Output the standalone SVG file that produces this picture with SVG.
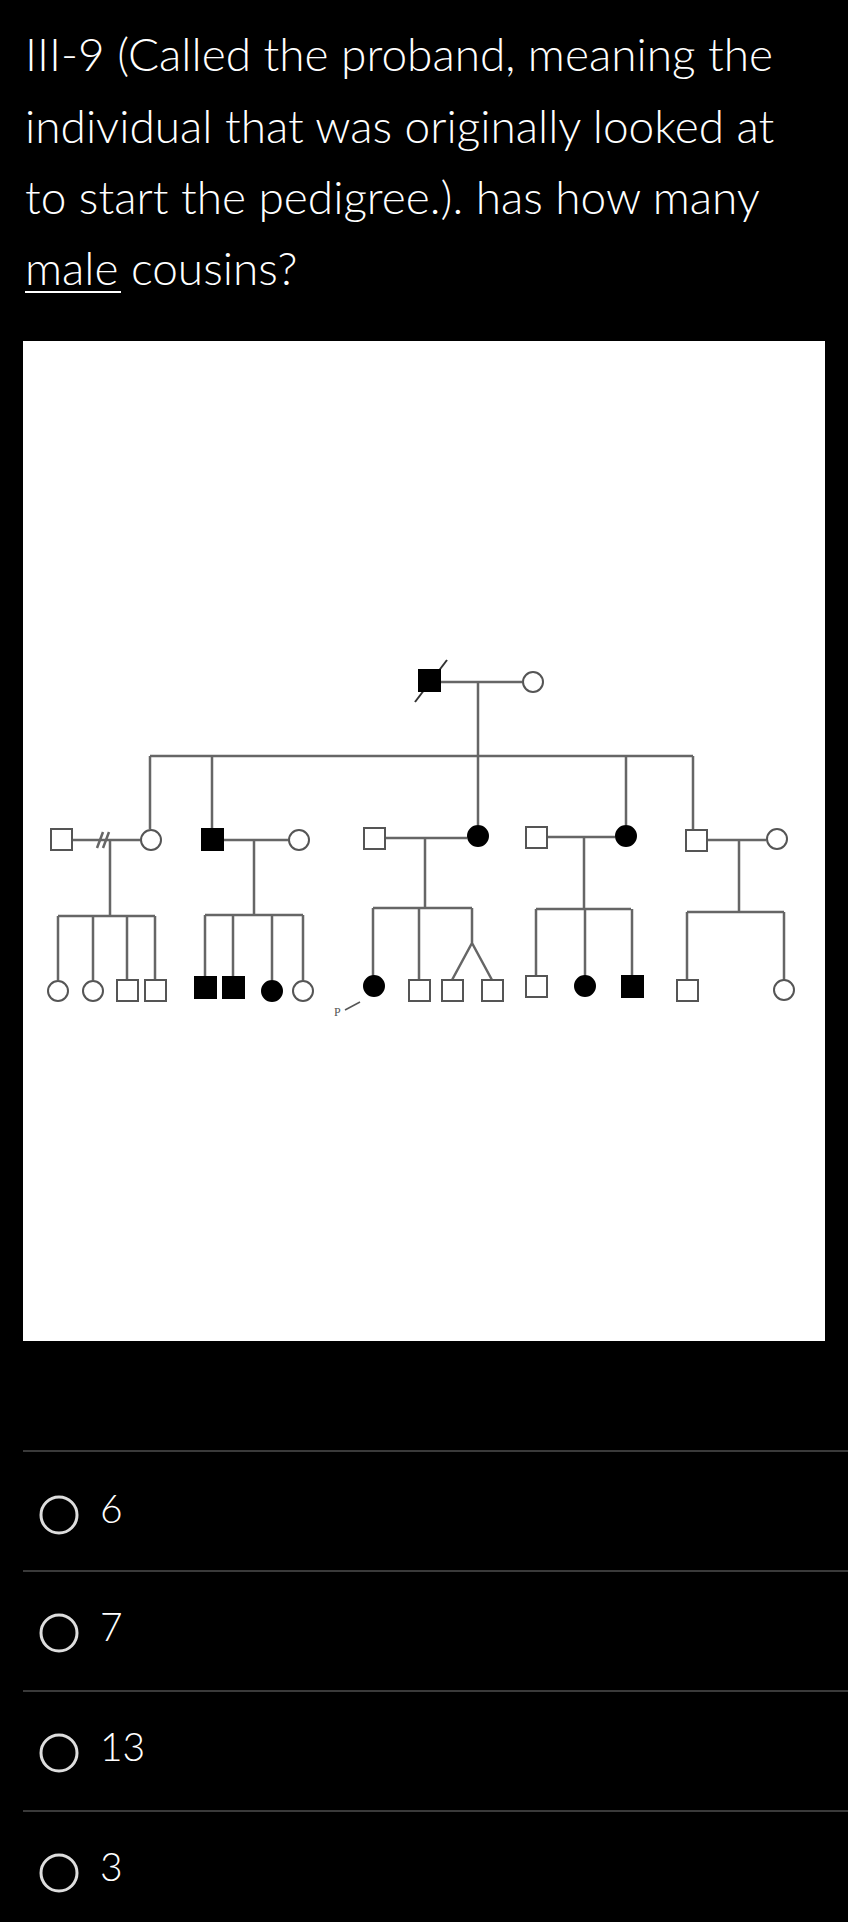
<svg xmlns="http://www.w3.org/2000/svg" width="848" height="1922" viewBox="0 0 848 1922">
<style>
.q{font-family:Lato,"Open Sans",sans-serif;font-size:46px;font-weight:300;fill:#fff}
.o{font-family:Lato,"Open Sans",sans-serif;font-size:39px;font-weight:300;fill:#fff}
.l{stroke:#666;stroke-width:2.5;fill:none}
.e{fill:#fff;stroke:#555;stroke-width:2}
.a{fill:#000;stroke:#000;stroke-width:2}
.sep{stroke:#3a3a3a;stroke-width:2}
.rad{fill:none;stroke:#ddd;stroke-width:3}
</style>
<rect width="848" height="1922" fill="#000"/>
<g id="question">
<text class="q" x="25" y="71">III-9 (Called the proband, meaning the</text>
<text class="q" x="25" y="143">individual that was originally looked at</text>
<text class="q" x="25" y="214">to start the pedigree.). has how many</text>
<text class="q" x="25" y="285">male cousins?</text>
<line x1="25" y1="292" x2="121" y2="292" stroke="#fff" stroke-width="2"/>
</g>
<rect x="23" y="341" width="802" height="1000" fill="#fff"/>
<g id="connectors">
<path class="l" d="M440 682H522M478 682V756M150 756H693M150 756V829M212 756V829M478 756V825M626 756V825M693 756V829"/>
<path class="l" d="M73 840H140M110 840V916M58 916H155M58 916V980M93 916V980M127 916V980M155 916V980"/>
<path class="l" d="M97 848L103 832M103 848L109 832"/>
<path class="l" d="M223 840H288M254 840V915M205 915H303M205 915V976M233 915V976M272 915V980M303 915V980"/>
<path class="l" d="M385 838H467M425 838V908M373 908H472M373 908V976M419 908V980M472 908V943M472 943L452 980M472 943L492 980"/>
<path class="l" d="M547 837H615M584 837V909M536 909H631M536 909V976M585 909V976M632 909V976"/>
<path class="l" d="M707 840H766M739 840V912M687 912H784M687 912V980M784 912V980"/>
<path d="M415 702L447 660" stroke="#333" stroke-width="2"/>
<path d="M345 1010L360 1002" stroke="#555" stroke-width="1.5"/>
</g>
<g id="gen1">
<rect class="a" x="419" y="670" width="21" height="21"/>
<circle class="e" cx="533" cy="682" r="10"/>
</g>
<g id="gen2">
<rect class="e" x="51" y="829" width="21" height="21"/>
<circle class="e" cx="151" cy="840" r="10"/>
<rect class="a" x="202" y="829" width="21" height="21"/>
<circle class="e" cx="299" cy="840" r="10"/>
<rect class="e" x="364" y="828" width="21" height="21"/>
<circle class="a" cx="478" cy="836" r="10"/>
<rect class="e" x="526" y="827" width="21" height="21"/>
<circle class="a" cx="626" cy="836" r="10"/>
<rect class="e" x="686" y="830" width="21" height="21"/>
<circle class="e" cx="777" cy="839" r="10"/>
</g>
<g id="gen3">
<circle class="e" cx="58" cy="991" r="10"/>
<circle class="e" cx="93" cy="991" r="10"/>
<rect class="e" x="117" y="980" width="21" height="21"/>
<rect class="e" x="145" y="980" width="21" height="21"/>
<rect class="a" x="195" y="977" width="21" height="21"/>
<rect class="a" x="223" y="977" width="21" height="21"/>
<circle class="a" cx="272" cy="991" r="10"/>
<circle class="e" cx="303" cy="991" r="10"/>
<circle class="a" cx="374" cy="986" r="10"/>
<text x="334" y="1016" font-family="Liberation Serif,serif" font-size="12" fill="#555">P</text>
<rect class="e" x="409" y="980" width="21" height="21"/>
<rect class="e" x="442" y="980" width="21" height="21"/>
<rect class="e" x="482" y="980" width="21" height="21"/>
<rect class="e" x="526" y="976" width="21" height="21"/>
<circle class="a" cx="585" cy="986" r="10"/>
<rect class="a" x="622" y="976" width="21" height="21"/>
<rect class="e" x="677" y="980" width="21" height="21"/>
<circle class="e" cx="784" cy="990" r="10"/>
</g>
<g id="options">
<line class="sep" x1="23" y1="1451" x2="848" y2="1451"/>
<line class="sep" x1="23" y1="1571" x2="848" y2="1571"/>
<line class="sep" x1="23" y1="1691" x2="848" y2="1691"/>
<line class="sep" x1="23" y1="1811" x2="848" y2="1811"/>
<circle class="rad" cx="59" cy="1515" r="18"/>
<circle class="rad" cx="59" cy="1633" r="18"/>
<circle class="rad" cx="59" cy="1753" r="18"/>
<circle class="rad" cx="59" cy="1873" r="18"/>
<text class="o" x="100" y="1523">6</text>
<text class="o" x="100" y="1641">7</text>
<text class="o" x="100" y="1761">13</text>
<text class="o" x="100" y="1881">3</text>
</g>
</svg>
